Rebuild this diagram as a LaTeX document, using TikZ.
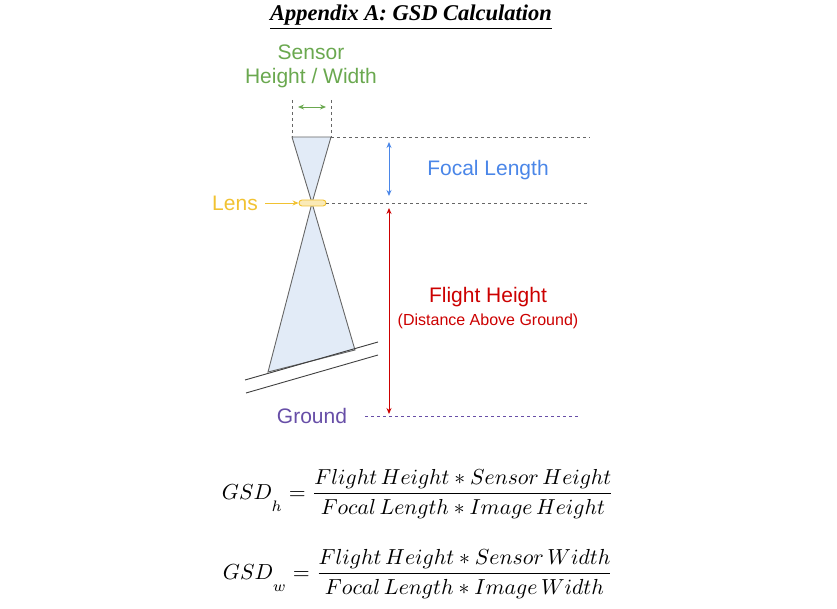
\documentclass[tikz,border=0pt]{standalone}
\usepackage{fontspec}
\setmainfont{Liberation Serif}
\setsansfont{Liberation Sans}
\usepackage{amsmath}
\usepackage{graphicx}
\usetikzlibrary{arrows.meta}
\definecolor{cgreen}{RGB}{106,168,79}
\definecolor{cblue}{RGB}{74,134,232}
\definecolor{cred}{RGB}{204,0,0}
\definecolor{cpurple}{RGB}{103,78,167}
\definecolor{cyel}{RGB}{241,194,50}
\definecolor{cfill}{RGB}{226,235,247}
\begin{document}
\begin{tikzpicture}[x=1pt,y=-1pt,
  lbl/.style={font=\sffamily\fontsize{21}{23}\selectfont,inner sep=0pt},
  guide/.style={dashed,gray!80!black,line width=0.6pt},
  arr/.style={line width=0.9pt,-{Stealth[length=6pt,width=5pt]}},
  darr/.style={line width=0.9pt,{Stealth[length=6pt,width=5pt]}-{Stealth[length=6pt,width=5pt]}},
  cone/.style={fill=cfill,draw=gray!80!black,line width=0.9pt}]
\useasboundingbox (0,0) rectangle (837,609);
\node[font=\bfseries\itshape\fontsize{22.5}{24}\selectfont,inner sep=0pt] (title) at (411,17) {\underline{Appendix A: GSD Calculation}};
\node[lbl,text=cgreen] (sens1) at (311,52) {Sensor};
\node[lbl,text=cgreen] (sens2) at (311,78) {Height / Width};
% cones
\coordinate (tl) at (292,137); \coordinate (tr) at (331,137);
\coordinate (ap) at (312,203);
\coordinate (bl) at (268,372); \coordinate (br) at (355,350);
\draw[cone] (tl) -- (tr) -- (ap) -- cycle;
\draw[cone] (ap) -- (br) -- (bl) -- cycle;
\draw[guide] (292,100) -- (tl);
\draw[guide] (331,100) -- (tr);
\draw[darr,cgreen] (298,107) -- (326,107);
\draw[guide] (tr) -- (590,137);
% lens
\node[draw=cyel,fill=cyel!35,rounded corners=3pt,minimum width=27pt,minimum height=6pt,inner sep=0pt,line width=0.9pt] (lens) at (312.5,203) {};
\draw[guide] (lens.east) -- (590,203);
\node[lbl,text=cyel] (lenst) at (235,203) {Lens};
\draw[arr,cyel] (265,203) -- (lens.west);
% arrows
\draw[darr,cblue] (389,142) -- (389,196);
\node[lbl,text=cblue] (focal) at (488,170) {Focal Length};
\draw[darr,cred] (389,208) -- (389,414);
\node[lbl,text=cred] (fh) at (488,297) {Flight Height};
\node[font=\sffamily\fontsize{16}{18}\selectfont,inner sep=0pt,text=cred] (dag) at (488,321) {(Distance Above Ground)};
% ground
\draw[gray!50!black,line width=0.9pt] (245,380) -- (378,342);
\draw[gray!50!black,line width=0.9pt] (246,393) -- (378,355);
\node[lbl,text=cpurple] (ground) at (312,416) {Ground};
\draw[dashed,cpurple,line width=0.6pt] (365,416) -- (580,416);
% equations
\node[inner sep=0pt] (eq1) at (418,494) {\resizebox{392pt}{!}{$\displaystyle GSD_{\raisebox{-4pt}{$\scriptstyle h$}} = \frac{Flight\,Height * Sensor\,Height}{Focal\,Length * Image\,Height}$}};
\node[inner sep=0pt] (eq2) at (418,574) {\resizebox{390pt}{!}{$\displaystyle GSD_{\raisebox{-4pt}{$\scriptstyle w$}} = \frac{Flight\,Height * Sensor\,Width}{Focal\,Length * Image\,Width}$}};
\end{tikzpicture}
\end{document}
